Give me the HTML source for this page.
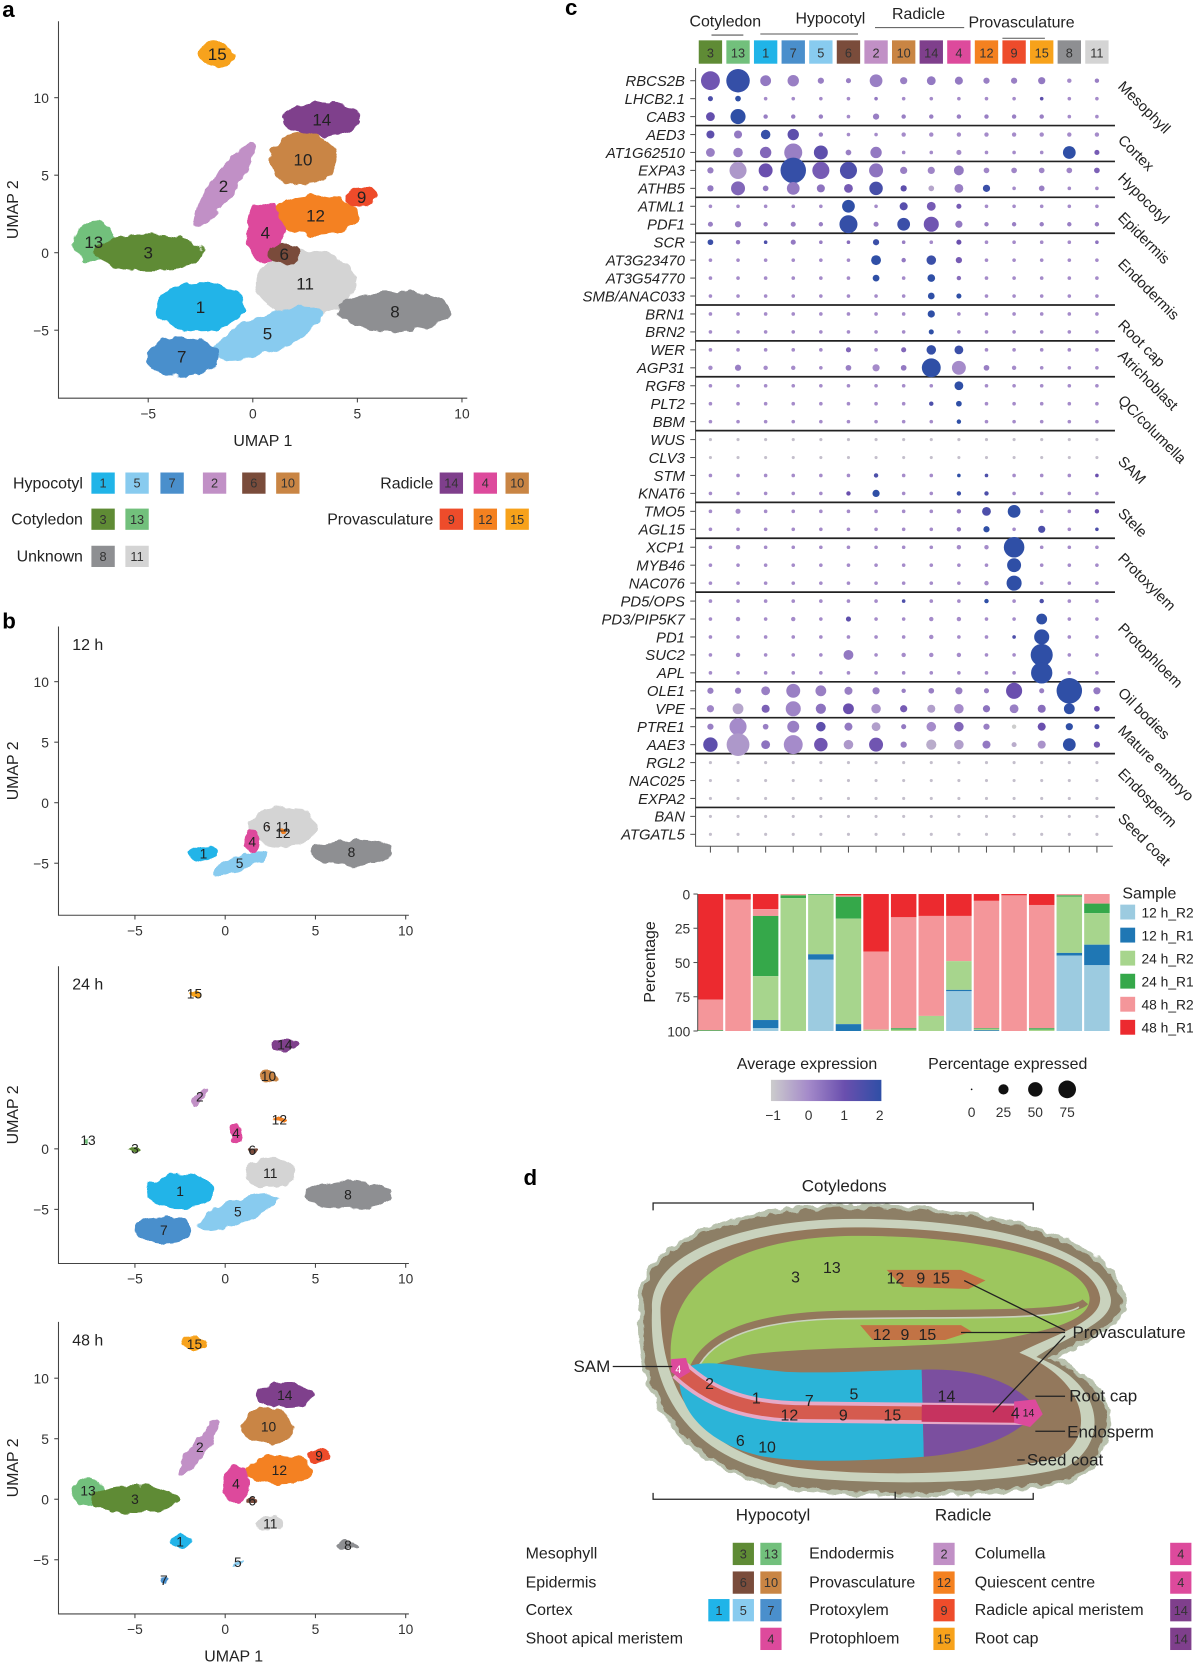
<!DOCTYPE html>
<html><head><meta charset="utf-8"><style>
html,body{margin:0;padding:0;background:#fff;}
svg{display:block;font-family:"Liberation Sans",sans-serif;}
</style></head><body>
<svg id="fig" width="1200" height="1667" viewBox="0 0 1130 1570" xmlns="http://www.w3.org/2000/svg">
<defs>
<filter id="rough" x="-20%" y="-20%" width="140%" height="140%">
<feTurbulence type="fractalNoise" baseFrequency="0.09" numOctaves="2" seed="3" result="n"/>
<feDisplacementMap in="SourceGraphic" in2="n" scale="9" xChannelSelector="R" yChannelSelector="G"/>
</filter>
</defs>
<rect width="1130" height="1570" fill="#fff"/>
<text x="2" y="16" font-size="21" font-weight="bold">a</text>
<text x="2" y="592" font-size="21" font-weight="bold">b</text>
<text x="532" y="14" font-size="21" font-weight="bold">c</text>
<text x="493" y="1116" font-size="21" font-weight="bold">d</text>
<g id="seed">
  <path filter="url(#rough)" d="M603,1232 C596,1168 700,1136 805,1136 C935,1136 1044,1165 1058,1222 C1064,1250 1015,1265 990,1280 C1055,1302 1060,1362 1012,1392 C960,1408 850,1412 760,1403 C650,1393 598,1325 603,1232 Z" fill="#8d7f66" stroke="#b9c2ae" stroke-width="4"/>
  <path d="M614,1234 C610,1178 705,1148 805,1148 C930,1148 1036,1174 1046,1222 C1050,1246 1005,1258 976,1278 C1040,1302 1046,1358 1004,1382 C955,1396 850,1400 762,1392 C660,1383 610,1322 614,1234 Z" fill="#c9d2bd"/>
  <path d="M622,1236 C620,1186 708,1156 806,1156 C928,1156 1030,1180 1036,1222 C1038,1245 990,1258 960,1274 C1025,1300 1032,1352 998,1372 C950,1386 850,1392 765,1384 C668,1376 624,1320 622,1236 Z" fill="#93785c"/>
  <path d="M632,1286 C624,1196 710,1164 808,1164 C925,1164 1022,1186 1026,1222 C1028,1246 980,1254 940,1262 C860,1270 760,1268 705,1276 C680,1281 660,1290 646,1296 Z" fill="#9dc65e"/>
  <path d="M1022,1226 C1010,1240 900,1236 790,1238 C700,1240 660,1262 650,1296" fill="none" stroke="#93785c" stroke-width="7"/>
  <path d="M1016,1231 C1000,1244 900,1240 790,1242 C702,1244 664,1265 654,1296" fill="none" stroke="#c9d2bd" stroke-width="1.5"/>
  <path d="M640,1292 C660,1276 690,1288 740,1292 C790,1294 830,1290 868,1290 L870,1372 C810,1376 760,1378 720,1372 C670,1362 636,1330 640,1292 Z" fill="#2bb4d8"/>
  <path d="M868,1290 C915,1288 955,1300 976,1326 C966,1350 920,1368 870,1372 Z" fill="#7b4f9f"/>
  <path d="M640,1290 C670,1318 705,1330 760,1330 L965,1332" fill="none" stroke="#e6a9c7" stroke-width="20"/>
  <path d="M640,1290 C670,1318 705,1330 760,1330 L965,1332" fill="none" stroke="#d55b4f" stroke-width="13"/>
  <path d="M868,1331 L965,1332" fill="none" stroke="#c6335f" stroke-width="16"/>
  <polygon points="835,1196 905,1196 928,1206 912,1214 850,1212" fill="#c27345"/>
  <polygon points="810,1248 905,1248 915,1254 890,1262 822,1262" fill="#c27345"/>
  <path d="M632,1280 L646,1279 L650,1292 L640,1298 L632,1292 Z" fill="#dd4a9c"/>
  <path d="M955,1320 L975,1318 L982,1332 L970,1344 L955,1340 Z" fill="#dd4a9c"/>
  <g font-size="15" fill="#222">
    <text x="745" y="1208">3</text><text x="775" y="1199">13</text>
    <text x="835" y="1209">12</text><text x="863" y="1209">9</text><text x="878" y="1209">15</text>
    <text x="822" y="1262">12</text><text x="848" y="1262">9</text><text x="865" y="1262">15</text>
    <text x="664" y="1308">2</text><text x="708" y="1322">1</text><text x="758" y="1324">7</text><text x="800" y="1318">5</text>
    <text x="735" y="1338">12</text><text x="790" y="1338">9</text><text x="832" y="1338">15</text>
    <text x="693" y="1362">6</text><text x="714" y="1368">10</text><text x="883" y="1320">14</text>
    <text x="952" y="1336">4</text><text x="636" y="1293" font-size="10" fill="#fff">4</text><text x="963" y="1334" font-size="10">14</text>
  </g>
  <g stroke="#222" stroke-width="1.2" fill="none">
    <path d="M615,1140 L615,1133 L973,1133 L973,1140"/>
    <path d="M615,1406 L615,1412 L973,1412 L973,1406 M843,1412 L843,1405"/>
    <path d="M577,1287 L633,1287"/>
    <path d="M908,1206 L1003,1253 M905,1255 L1003,1255 M935,1330 L1003,1258"/>
    <path d="M975,1315 L1003,1315 M975,1348 L1003,1348 M958,1375 L965,1375"/>
  </g>
  <g font-size="16" fill="#222">
    <text x="795" y="1122" text-anchor="middle">Cotyledons</text>
    <text x="540" y="1292">SAM</text>
    <text x="1010" y="1260">Provasculature</text>
    <text x="1007" y="1320">Root cap</text>
    <text x="1005" y="1354">Endosperm</text>
    <text x="967" y="1380">Seed coat</text>
    <text x="728" y="1432" text-anchor="middle">Hypocotyl</text>
    <text x="907" y="1432" text-anchor="middle">Radicle</text>
  </g>
</g>
<g id="dyn"></g>
</svg>
<script>
const NS='http://www.w3.org/2000/svg';
const root=document.getElementById('dyn');
function mk(tag,attrs,parent){const e=document.createElementNS(NS,tag);for(const k in attrs)e.setAttribute(k,attrs[k]);(parent||root).appendChild(e);return e;}
function txt(s,attrs,parent){const e=mk('text',attrs,parent);e.textContent=s;return e;}

const clusterColor={1:'#20b4e8',2:'#c190c6',3:'#5f8b35',4:'#dd4a9c',5:'#88cbef',6:'#7a4c3b',7:'#4a8fcc',8:'#8e8f92',9:'#ee4c2b',10:'#c98544',11:'#d4d4d4',12:'#f48120',13:'#72c07c',14:'#7f3f8c',15:'#f7a21b'};

// ---------- UMAP cluster data ----------
const clusterIds=[11,8,13,3,1,5,7,2,15,14,10,12,9,4,6];
const clusterX=[2.5,6.8,-7.6,-5,-2.5,0.7,-3.4,-1.4,-1.7,3.3,2.4,3,5.2,0.6,1.5];
const clusterY=[-2,-3.8,0.7,0,-3.5,-5.2,-6.7,4.3,12.8,8.6,6,2.4,3.6,1.3,-0.1];
const clusterRX=[2.4,2.7,1.0,2.6,2.1,2.8,1.7,2.4,0.9,1.9,1.6,2.1,0.7,0.9,0.8];
const clusterRY=[2.1,1.3,1.3,1.2,1.6,1.2,1.3,0.8,0.8,1.1,1.7,1.3,0.7,2.0,0.7];
const clusterAngle=[0,0,0,0,0,-20,0,-55,0,0,0,0,0,0,0];
const pos12X=[3.2,7,0,0,-1.2,0.8,0,0,0,0,0,3.2,0,1.5,2.3];
const pos12Y=[-2,-4.1,0,0,-4.2,-5,0,0,0,0,0,-2.5,0,-3.2,-2];
const frac12=[0.8,0.85,0,0,0.4,0.55,0,0,0,0,0,0.1,0,0.45,0.15];
const frac24=[0.6,0.9,0.1,0.15,0.9,0.85,0.9,0.3,0.3,0.4,0.3,0.2,0,0.4,0.35];
const frac48=[0.3,0.25,0.9,0.95,0.3,0.15,0.15,0.8,0.8,0.9,0.9,0.9,0.9,0.8,0.35];

function umapPanel(name,x0,xs,y0,ys,yTop,yBot,xl,xr,yticks,frac,labelSize,showXTitle,showYTitle,title,px,py){
  const g=mk('g',{});
  
  
  const X=u=>x0+u*xs, Y=v=>y0-v*ys;
  const blobs=mk('g',{filter:'url(#rough)'},g);
  for(let i=0;i<clusterIds.length;i++){
    const f=frac?frac[i]:1; if(f<=0) continue;
    const cx=X(px?px[i]:clusterX[i]),cy=Y(py?py[i]:clusterY[i]);
    const e=mk('ellipse',{cx:cx,cy:cy,rx:clusterRX[i]*xs*f,ry:clusterRY[i]*ys*f,fill:clusterColor[clusterIds[i]],transform:`rotate(${clusterAngle[i]} ${cx} ${cy})`},blobs);
    
    
  }
  for(let i=0;i<clusterIds.length;i++){
    const f=frac?frac[i]:1; if(f<0.1) continue;
    const t=txt(String(clusterIds[i]),{x:X(px?px[i]:clusterX[i]),y:Y(py?py[i]:clusterY[i])+labelSize*0.35,'font-size':labelSize,'text-anchor':'middle',fill:'#222'},g);
    
    
  }
  const ax=mk('path',{d:`M${xl},${yTop} L${xl},${yBot} L${xr},${yBot}`,fill:'none',stroke:'#444','stroke-width':1},g);
  
  
  [-5,0,5,10].forEach(v=>{
    mk('line',{x1:X(v),x2:X(v),y1:yBot,y2:yBot+4,stroke:'#444'},g);
    const t=txt(v<0?'\u2212'+(-v):String(v),{x:X(v),y:yBot+19,'font-size':13,'text-anchor':'middle',fill:'#333'},g);
    
    
  });
  yticks.forEach(v=>{
    mk('line',{x1:xl-4,x2:xl,y1:Y(v),y2:Y(v),stroke:'#444'},g);
    const t=txt(v<0?'\u2212'+(-v):String(v),{x:xl-9,y:Y(v)+5,'font-size':13,'text-anchor':'end',fill:'#333'},g);
    
    
  });
  if(showXTitle){const t=txt('UMAP 1',{x:(xl+xr)/2,y:yBot+45,'font-size':15,'text-anchor':'middle',fill:'#222'},g);
    
    }
  if(showYTitle){const my=(yTop+yBot)/2;const t=txt('UMAP 2',{x:17,y:my,'font-size':15,'text-anchor':'middle',fill:'#222',transform:`rotate(-90 17 ${my})`},g);
    
    }
  if(title){const t=txt(title,{x:68,y:yTop+22,'font-size':15,fill:'#222'},g);
    
    }
}
umapPanel('umap-all',238,19.7,238,14.6,20,375,55,440,[10,5,0,-5],null,16,true,true,null);
umapPanel('umap-12h',212,17,756,11.4,590,862,55,385,[10,5,0,-5],frac12,13,false,true,'12 h',pos12X,pos12Y);
umapPanel('umap-24h',212,17,1082,11.4,910,1190,55,385,[0,-5],frac24,13,false,true,'24 h');
umapPanel('umap-48h',212,17,1412,11.4,1245,1520,55,385,[10,5,0,-5],frac48,13,true,true,'48 h');

// ---------- panel a legend ----------
function box(x,y,w,h,id,name,fs){
  const r=mk('rect',{x:x,y:y,width:w,height:h,fill:clusterColor[id]});
  
  
  const t=txt(String(id),{x:x+w/2,y:y+h/2+(fs||12)*0.36,'font-size':fs||12,'text-anchor':'middle',fill:'#333'});
  
  
}
const legA=[['Hypocotyl',78,455,[[86,1],[118,5],[151,7],[191,2],[228,6],[260,10]]],['Cotyledon',78,489,[[86,3],[118,13]]],['Unknown',78,524,[[86,8],[118,11]]],['Radicle',408,455,[[414,14],[446,4],[476,10]]],['Provasculature',408,489,[[414,9],[446,12],[476,15]]]];
legA.forEach(L=>{
  const t=txt(L[0],{x:L[1],y:L[2]+5,'font-size':15,'text-anchor':'end',fill:'#222'});
  
  
  L[3].forEach(b=>box(b[0],L[2]-10,22,20,b[1],'legend-entry-'+b[1]));
});

// ---------- panel c dot plot ----------
const colClusters=[3,13,1,7,5,6,2,10,14,4,12,9,15,8,11];
const genes=['RBCS2B','LHCB2.1','CAB3','AED3','AT1G62510','EXPA3','ATHB5','ATML1','PDF1','SCR','AT3G23470','AT3G54770','SMB/ANAC033','BRN1','BRN2','WER','AGP31','RGF8','PLT2','BBM','WUS','CLV3','STM','KNAT6','TMO5','AGL15','XCP1','MYB46','NAC076','PD5/OPS','PD3/PIP5K7','PD1','SUC2','APL','OLE1','VPE','PTRE1','AAE3','RGL2','NAC025','EXPA2','BAN','ATGATL5'];
const pctExpressed=[
[55,85,18,20,6,4,25,8,12,10,6,6,8,3,3],
[4,5,2,2,2,2,2,2,2,2,2,2,2,2,2],
[12,35,3,3,3,2,6,3,3,3,3,3,3,2,2],
[10,10,14,20,3,2,2,3,3,3,3,3,3,3,3],
[12,14,20,50,30,5,20,2,2,4,2,2,2,25,4],
[6,45,30,100,45,45,30,8,8,15,5,5,5,5,5],
[6,30,5,25,10,12,28,6,5,12,8,2,5,2,2],
[2,2,2,2,2,25,2,10,12,4,2,2,2,2,2],
[4,6,3,4,3,50,4,25,35,8,3,3,3,3,3],
[5,3,2,4,2,2,6,2,2,4,2,2,2,2,2],
[2,2,2,2,2,2,15,3,14,6,2,2,2,2,2],
[2,2,2,2,2,2,7,2,9,3,2,2,2,2,2],
[2,2,2,2,2,2,2,2,7,4,2,2,2,2,2],
[2,2,2,2,2,2,2,2,8,2,2,2,2,2,2],
[2,2,2,2,2,2,2,2,4,2,2,2,2,2,2],
[2,2,2,2,2,4,2,4,14,12,2,2,2,2,2],
[3,6,3,3,2,5,8,5,55,30,5,3,2,2,2],
[2,2,2,2,2,2,2,2,2,12,2,2,2,2,2],
[2,2,2,2,2,2,2,2,3,5,2,2,2,2,2],
[2,2,2,2,2,2,2,2,2,3,2,2,2,2,2],
[1.5,1.5,1.5,1.5,1.5,1.5,1.5,1.5,1.5,1.5,1.5,1.5,1.5,1.5,1.5],
[1.5,1.5,1.5,1.5,1.5,1.5,1.5,1.5,1.5,1.5,1.5,1.5,1.5,1.5,1.5],
[2,2,2,2,2,2,3,2,2,2,2,2,2,2,2],
[2,2,2,2,2,3,8,2,2,3,3,2,2,2,2],
[2,4,2,2,2,2,2,2,2,3,12,25,2,2,3],
[2,2,2,2,2,2,2,2,2,3,6,2,8,2,2],
[2,3,2,2,2,2,2,2,2,3,3,65,2,2,2],
[2,2,2,2,2,2,2,2,2,2,2,30,2,2,2],
[2,2,2,2,2,2,2,2,2,2,3,35,2,2,2],
[2,2,2,2,2,2,2,2,2,2,3,2,3,2,2],
[2,3,2,3,2,4,2,2,3,3,2,2,18,2,2],
[2,2,2,2,2,2,2,2,3,2,2,2,35,2,2],
[2,3,2,2,2,15,2,3,3,3,2,2,75,2,2],
[2,2,2,2,2,2,2,2,2,2,2,2,70,2,2],
[6,6,12,30,18,10,8,3,5,8,4,40,4,100,8],
[8,18,10,35,16,18,14,8,10,14,8,12,10,18,5],
[6,45,5,22,14,10,12,4,14,14,6,3,10,8,4],
[32,80,12,55,28,14,30,6,16,14,10,4,10,25,6],
[1.5,1.5,1.5,1.5,1.5,1.5,1.5,1.5,1.5,1.5,1.5,1.5,1.5,1.5,1.5],
[1.5,1.5,1.5,1.5,1.5,1.5,1.5,1.5,1.5,1.5,1.5,1.5,1.5,1.5,1.5],
[1.5,1.5,1.5,1.5,1.5,1.5,1.5,1.5,1.5,1.5,1.5,1.5,1.5,1.5,1.5],
[1.5,1.5,1.5,1.5,1.5,1.5,1.5,1.5,1.5,1.5,1.5,1.5,1.5,1.5,1.5],
[1.5,1.5,1.5,1.5,1.5,1.5,1.5,1.5,1.5,1.5,1.5,1.5,1.5,1.5,1.5]];
const avgExpression=[
[0.9,1.9,0.3,0.2,0.2,0.2,0.2,0.2,0.3,0.3,0.2,0.2,0.3,0,0.2],
[1.5,2,0,0,0,0,0.3,0,0,0,0,0,1.2,0,0],
[1.1,2,0.2,0.2,0.2,0,0.2,0.2,0.2,0.2,0.2,0.2,0.2,0,0],
[1.2,0.3,1.9,1.2,0.2,0,0,0,0,0,0,0,0,0,0],
[0.2,0.2,0.6,0.2,1.2,0.2,0.3,0,0,0,0,0,0,2,0.8],
[0.2,-0.2,1,1.9,0.8,1.5,0.4,0.2,0.1,0.3,0.1,0.1,0.1,0.1,0.7],
[0.3,0.6,0.3,0.3,0.4,0.8,1.6,1.2,-0.4,0.2,1.8,0,0.2,0,0],
[0,0,0,0,0,2,0,1.3,0.8,0.8,0,0,0,0,0],
[0.2,0.2,0.2,0.2,0.2,1.9,0.2,1.8,0.9,0.3,0.2,0.2,0.2,0.2,0.2],
[1.8,0.3,1.5,0.3,0.2,0.5,1.8,0.2,0,1,0,0,0,0,0.4],
[0,0,0,0,0,0,2,0.3,1.8,0.8,0,0,0,0,0],
[0,0,0,0,0,0,2,0,2,0.5,0,0,0,0,0],
[0,0,0,0,0,0,0,0,2,2,0,0,0,0,0],
[0,0,0,0,0,0,0,0,2,0,0,0,0,0,0],
[0,0,0,0,0,0,0,0,2,0,0,0,0,0,0],
[0,0,0,0,0,0.6,0,0.6,1.9,1.8,0,0,0,0,0],
[0,0.2,0,0,0,0.2,0,0.3,2,0,0.2,0,0,0,0],
[0,0,0,0,0,0,0,0,0,2,0,0,0,0,0],
[0,0,0,0,0,0,0,0,1.5,2,0,0,0,0,0],
[0,0,0,0,0,0,0,0,0,2,0,0,0,0,0],
[-0.8,-0.8,-0.8,-0.8,-0.8,-0.8,-0.8,-0.8,-0.8,-0.8,-0.8,-0.8,-0.8,-0.8,-0.8],
[-0.8,-0.8,-0.8,-0.8,-0.8,-0.8,-0.8,-0.8,-0.8,-0.8,-0.8,-0.8,-0.8,-0.8,-0.8],
[0,0,0,0,0,0,1.5,0,0,2,1.5,0,0,0,1],
[0,0,0,0,0,1,2,0,0,1.8,1.5,0,0,0,0],
[0,0,0,0,0,0,0,0,0,0.3,1.5,2,0,0,1],
[0,0,0,0,0,0,0,0,0,0.3,2,0,1.5,0,1.5],
[0,0,0,0,0,0,0,0,0,0,0,2,0,0,0],
[0,0,0,0,0,0,0,0,0,0,0,2,0,0,0],
[0,0,0,0,0,0,0,0,0,0,0,2,0,0,0],
[0,0,0,0,0,0,0,1.5,0,0,2,0,1.5,0,0],
[0,0,0,0,0,1.2,0,0,0,0,0,0,2,0,0],
[0,0,0,0,0,0,0,0,0,0,0,1.5,2,0,0],
[0,0,0,0,0,0.3,0,0,0,0,0,0,2,0,0],
[0,0,0,0,0,0,0,0,0,0,0,0,2,0,0],
[0.2,0.2,0.2,0.2,0.2,0.2,0.2,0.2,0.2,0.2,0.2,1,0.2,2,0.3],
[0.1,-0.4,0.7,0.1,0.4,1,-0.1,0.8,-0.3,0,0.4,0.2,0.5,2,1],
[0.2,0,0.2,0.2,1.2,0.3,-0.3,0.3,0,0.6,0.2,-1,1,2,1.5],
[1.2,-0.2,0.4,0,0.9,-0.2,0.9,0.2,-0.5,-0.3,0.3,-0.5,-0.1,2,0.8],
[-0.8,-0.8,-0.8,-0.8,-0.8,-0.8,-0.8,-0.8,-0.8,-0.8,-0.8,-0.8,-0.8,-0.8,-0.8],
[-0.8,-0.8,-0.8,-0.8,-0.8,-0.8,-0.8,-0.8,-0.8,-0.8,-0.8,-0.8,-0.8,-0.8,-0.8],
[-0.8,-0.8,-0.8,-0.8,-0.8,-0.8,-0.8,-0.8,-0.8,-0.8,-0.8,-0.8,-0.8,-0.8,-0.8],
[-0.8,-0.8,-0.8,-0.8,-0.8,-0.8,-0.8,-0.8,-0.8,-0.8,-0.8,-0.8,-0.8,-0.8,-0.8],
[-0.8,-0.8,-0.8,-0.8,-0.8,-0.8,-0.8,-0.8,-0.8,-0.8,-0.8,-0.8,-0.8,-0.8,-0.8]];
const groupBreaks=[2,4,6,8,12,14,16,19,23,25,28,33,35,37,40];
const groupNames=['Mesophyll','Cortex','Hypocotyl','Epidermis','Endodermis','Root cap','Atrichoblast','QC/columella','SAM','Stele','Protoxylem','Protophloem','Oil bodies','Mature embryo','Endosperm','Seed coat'];
const groupLabelRows=[0.6,3.6,5.7,7.9,10.5,13.9,15.6,18.1,21.5,24.4,26.9,30.8,34.4,36.5,38.9,41.4];

const colX=i=>669+i*26;
const rowY=j=>76+j*16.9;
const radius=p=>Math.max(1,1.2*Math.sqrt(p));
const stops=[[-1,[204,204,204]],[0,[165,139,202]],[1,[106,79,174]],[2,[47,79,166]]];
function exprColor(v){v=Math.max(-1,Math.min(2,v));for(let k=0;k<stops.length-1;k++){const a=stops[k],b=stops[k+1];if(v<=b[0]){const t=(v-a[0])/(b[0]-a[0]);return 'rgb('+a[1].map((c,q)=>Math.round(c+(b[1][q]-c)*t)).join(',')+')';}}return 'rgb(47,79,166)';}

const dp=mk('g',{});


colClusters.forEach((c,i)=>{
  const r=mk('rect',{x:colX(i)-11,y:38,width:22,height:22,fill:clusterColor[c]},dp);
  
  
  const t=txt(String(c),{x:colX(i),y:54,'font-size':12,'text-anchor':'middle',fill:'#333'},dp);
  
  
});
const tops=[['Cotyledon',683,25,670,700,33],['Hypocotyl',782,22,716,808,32],['Radicle',865,18,824,908,26],['Provasculature',962,26,944,984,36]];
tops.forEach(T=>{
  const t=txt(T[0],{x:T[1],y:T[2],'font-size':15,'text-anchor':'middle',fill:'#222'},dp);
  
  
  mk('line',{x1:T[3],x2:T[4],y1:T[5],y2:T[5],stroke:'#555','stroke-width':1},dp);
});
const dax=mk('path',{d:'M655,64 L655,797 L1048,797',fill:'none',stroke:'#555','stroke-width':1},dp);


colClusters.forEach((c,i)=>mk('line',{x1:colX(i),x2:colX(i),y1:797,y2:803,stroke:'#555'},dp));
genes.forEach((g,j)=>{
  mk('line',{x1:650,x2:655,y1:rowY(j),y2:rowY(j),stroke:'#555'},dp);
  const t=txt(g,{x:645,y:rowY(j)+5,'font-size':14,'font-style':'italic','text-anchor':'end',fill:'#222'},dp);
  
  
});
groupBreaks.forEach(b=>{
  const y=(rowY(b)+rowY(b+1))/2;
  const l=mk('line',{x1:655,x2:1050,y1:y,y2:y,stroke:'#222','stroke-width':1.6},dp);
  
  
});
groupNames.forEach((n,k)=>{
  const x=1052,y=rowY(groupLabelRows[k])-4;
  const t=txt(n,{x:x,y:y,'font-size':14,fill:'#222',transform:`rotate(45 ${x} ${y})`},dp);
  
  
});
genes.forEach((g,j)=>{
  colClusters.forEach((c,i)=>{
    const d=mk('circle',{cx:colX(i),cy:rowY(j),r:radius(pctExpressed[j][i]),fill:exprColor(avgExpression[j][i])},dp);
    
    
  });
});

// ---------- stacked bar chart ----------
const sampleNames=['48 h_R1','48 h_R2','24 h_R1','24 h_R2','12 h_R1','12 h_R2'];
const sampleColors=['#ec2a2f','#f4969a','#35a84a','#a7d58d','#1f77b4','#9ccbe0'];
const s48R1=[77,4,11,0,0,1,42,17,16,16,5,1,8,0,0];
const s48R2=[22.5,96,5,1,0,1,57,81,73,33,93,99,90,1,7];
const s24R1=[0.5,0,44,2,0.5,16,0,1,0,0,0.5,0,1,1,7];
const s24R2=[0,0,32,97,43.5,77,1,1,11,21,1,0,1,41,23];
const s12R1=[0,0,6,0,4,5,0,0,0,1,0.5,0,0,2,15];
const s12R2=[0,0,2,0,52,0,0,0,0,29,0,0,0,55,48];
const series=[s48R1,s48R2,s24R1,s24R2,s12R1,s12R2];
const yBar=v=>842+v*1.29;
const bc=mk('g',{});


colClusters.forEach((c,i)=>{
  let acc=0;
  series.forEach((s,k)=>{
    if(s[i]<=0) return;
    const r=mk('rect',{x:colX(i)-12,y:yBar(acc),width:24,height:yBar(acc+s[i])-yBar(acc),fill:sampleColors[k]},bc);
    
    
    acc+=s[i];
  });
});
const bax=mk('line',{x1:657,x2:657,y1:842,y2:971,stroke:'#555'},bc);


const barTicks=[0,25,50,75,100];
barTicks.forEach(v=>{
  mk('line',{x1:653,x2:657,y1:yBar(v),y2:yBar(v),stroke:'#555'},bc);
  const t=txt(String(v),{x:650,y:yBar(v)+5,'font-size':13,'text-anchor':'end',fill:'#333'},bc);
  
  
});
const pt=txt('Percentage',{x:617,y:906,'font-size':15,'text-anchor':'middle',fill:'#222',transform:'rotate(-90 617 906)'},bc);


const st=txt('Sample',{x:1057,y:846,'font-size':15,fill:'#222'},bc);


const legOrder=[5,4,3,2,1,0];
legOrder.forEach((k,n)=>{
  const y=852+n*21.7;
  const r=mk('rect',{x:1055,y:y,width:14,height:14,fill:sampleColors[k]},bc);
  
  
  const t=txt(sampleNames[k],{x:1075,y:y+12,'font-size':13,fill:'#222'},bc);
  
  
});

// ---------- colour and size legends ----------
const lg=mk('g',{});


const defs=mk('defs',{},lg);
const grad=mk('linearGradient',{id:'eg',x1:0,x2:1,y1:0,y2:0},defs);
stops.forEach(s=>mk('stop',{offset:((s[0]+1)/3),'stop-color':'rgb('+s[1].join(',')+')'},grad));
const t1=txt('Average expression',{x:760,y:1007,'font-size':15,'text-anchor':'middle',fill:'#222'},lg);


const cb=mk('rect',{x:726,y:1017,width:104,height:20,fill:'url(#eg)'},lg);


const cbTicks=[-1,0,1,2];
cbTicks.forEach(v=>{
  const t=txt(v<0?'\u2212'+(-v):String(v),{x:728+(v+1)*33.5,y:1055,'font-size':13,'text-anchor':'middle',fill:'#333'},lg);
  
  
});
const t2=txt('Percentage expressed',{x:949,y:1007,'font-size':15,'text-anchor':'middle',fill:'#222'},lg);


const sizeTicks=[0,25,50,75];
sizeTicks.forEach((v,n)=>{
  const x=915+n*30;
  const c=mk('circle',{cx:x,cy:1026,r:radius(v)*0.8,fill:'#111'},lg);
  
  
  const t=txt(String(v),{x:x,y:1052,'font-size':13,'text-anchor':'middle',fill:'#333'},lg);
  
  
});

// ---------- panel d legend ----------
const legD=[
 ['Mesophyll',495,1463,[[690,3],[716,13]]],['Epidermis',495,1490,[[690,6],[716,10]]],['Cortex',495,1516,[[667,1],[690,5],[716,7]]],['Shoot apical meristem',495,1543,[[716,4]]],
 ['Endodermis',762,1463,[[879,2]]],['Provasculature',762,1490,[[879,12]]],['Protoxylem',762,1516,[[879,9]]],['Protophloem',762,1543,[[879,15]]],
 ['Columella',918,1463,[[1102,4]]],['Quiescent centre',918,1490,[[1102,4]]],['Radicle apical meristem',918,1516,[[1102,14]]],['Root cap',918,1543,[[1102,14]]]];
legD.forEach(L=>{
  const t=txt(L[0],{x:L[1],y:L[2]+5,'font-size':15,fill:'#222'});
  
  
  L[3].forEach(b=>box(b[0],L[2]-10,20,21,b[1],'tissue-legend-swatch'));
});
</script>
</body></html>
